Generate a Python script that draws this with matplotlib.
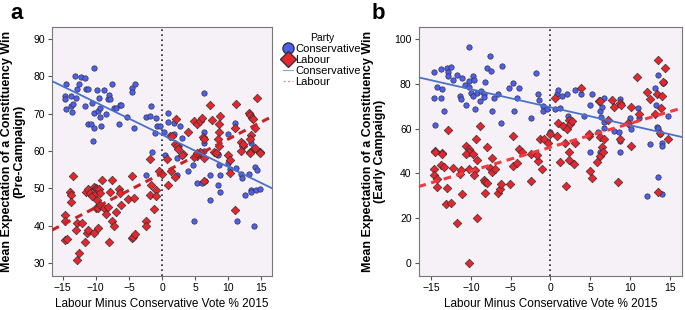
import numpy as np
import matplotlib
matplotlib.use("Agg")
import matplotlib.pyplot as plt
from matplotlib.lines import Line2D

plt.rcParams['font.family'] = ['Liberation Sans', 'DejaVu Sans']

# ---- panel a: pre-campaign ----
a_con_x = [-14.7, -14.7, -14.5, -14.5, -13.8, -13.8, -13.6, -13.4, -13.1, -13.0, -12.8, -12.6,
           -12.3, -11.7, -11.6, -11.4, -11.2, -10.3, -11.1, -10.7, -10.6, -10.3, -10.4, -10.2,
           -9.8, -9.7, -9.5, -9.4, -9.3, -9.2, -8.8, -8.4, -8.2, -8.0, -7.8, -7.6, -7.3, -7.0,
           -6.3, -6.2, -6.5, -5.3, -4.6, -4.5, -4.1, -4.3, -2.4, -1.7, -1.8, -1.1, -0.9, -0.8,
           -0.3, 0.3, 0.9, 0.9, 1.8, 1.8, 2.7, 3.0, 6.4, 6.3, 6.4, 9.9, 11.0, 13.4, 13.8, 2.5,
           -1.5, 6.3, 8.5, 0.5, 2.3, 2.3, -2.4, 3.9, 4.7, 5.3, 6.0, 6.5, 7.3, 7.2, 4.9, 8.5,
           8.6, 8.8, 8.5, 8.8, 10.0, 10.2, 11.1, 11.3, 12.0, 12.1, 12.5, 13.2, 13.5, 13.5,
           14.1, 14.3, 14.2, 14.8, 13.9]
a_con_y = [74.7, 73.8, 78.0, 71.1, 74.7, 72.0, 70.4, 72.6, 80.0, 74.1, 76.5, 77.8,
           79.8, 79.4, 72.0, 76.7, 76.5, 82.1, 67.1, 67.1, 72.9, 66.2, 62.7, 70.1,
           76.2, 70.7, 74.1, 71.6, 69.2, 66.8, 76.2, 69.8, 74.0, 75.0, 73.8, 77.8, 71.5, 71.4,
           72.2, 72.4, 67.1, 69.2, 76.9, 75.8, 77.8, 66.1, 69.0, 72.0, 69.3, 64.9, 68.9, 66.8,
           66.8, 65.1, 70.2, 67.7, 67.4, 64.5, 66.7, 63.5, 75.6, 65.1, 62.2, 64.6, 67.5, 62.0, 60.4, 61.3,
           59.8, 60.0, 59.1, 58.8, 58.0, 53.6, 53.6, 54.7, 56.3, 51.3, 51.5, 52.0, 53.6, 46.9, 41.1, 58.9,
           56.1, 53.6, 50.9, 49.1, 56.7, 55.2, 55.4, 41.1, 53.8, 52.7, 48.2, 53.8, 49.6, 48.9,
           55.8, 54.9, 49.6, 49.8, 40.0]
a_lab_x = [2.1, 1.2, 1.5, 1.9, 2.3, 2.4, 3.2, 3.9, 4.9, 5.3, 5.8, 6.0, 6.2, 6.3, 7.3, 7.6,
           8.6, 8.8, 8.6, 8.5, 8.6, 5.3, 5.8, 11.2, 11.0, 11.9, 12.2, 12.3, 13.2, 13.3, 13.6,
           13.8, 14.1, 14.3, 13.4, 13.3, 14.1, 14.8, 13.3, 7.9,
           -13.4, -14.6, -14.7, -14.6, -14.3, -13.9, -13.8, -13.7, -12.9, -13.0, -12.1, -12.5,
           -12.9, -11.7, -11.3, -11.1, -11.5, -11.1, -10.8, -10.5, -10.3, -10.0, -10.0, -9.8,
           -9.5, -9.8, -9.9, -9.6, -9.3, -9.1, -9.3, -10.3, -9.7, -8.8, -8.4, -8.2, -8.0, -7.9,
           -7.6, -7.5, -7.3, -7.0, -6.5, -6.3, -6.2, -5.2, -4.6, -4.6, -4.4, -4.1, -4.3, -2.4,
           -2.4, -1.8, -1.6, -1.8, -1.2, -0.9, -0.9, -0.4, 0.0, 0.8, 0.9, 1.3, 2.0, 3.0, 4.9,
           5.3, 6.4, 6.4, 8.1, 9.9, 10.2, 10.3, 11.0, 12.0, 13.3, 14.8]
a_lab_y = [68.6, 64.0, 64.1, 61.8, 61.3, 60.6, 59.1, 65.1, 68.0, 67.2, 68.0, 68.7, 63.8, 63.1, 72.2, 68.2,
           67.1, 69.3, 65.1, 63.3, 61.3, 58.7, 59.8, 72.5, 66.2, 62.4, 61.3, 61.8, 70.2, 69.5, 68.9,
           68.5, 66.2, 74.1, 64.2, 63.3, 60.9, 59.6, 59.6, 59.8,
           53.3, 42.9, 41.3, 36.2, 36.3, 49.1, 48.2, 46.4, 40.6, 38.8, 40.6, 32.6,
           30.8, 35.7, 38.1, 38.8, 48.9, 49.7, 48.7, 48.0, 50.3, 50.0, 48.8, 49.7,
           49.7, 46.9, 44.6, 44.6, 48.7, 52.2, 45.5, 38.1, 39.3, 44.6, 43.1, 45.1, 35.7, 48.9,
           52.1, 41.3, 39.9, 43.6, 49.7, 48.8, 45.5, 47.1, 53.3, 36.6, 36.9, 37.8, 47.5, 41.3,
           40.0, 57.8, 50.9, 48.2, 44.5, 49.6, 48.0, 54.7, 53.8, 57.8, 50.9, 54.7, 52.9, 58.9, 58.5,
           59.4, 52.0, 58.0, 59.4, 58.9, 57.6, 54.0, 44.2, 60.0, 59.4, 59.4]

# ---- panel b: early campaign ----
b_con_x = [-14.6, -14.3, -14.7, -14.5, -13.8, -13.7, -13.8, -13.4, -13.0, -12.9, -12.9, -12.5,
           -12.2, -11.7, -11.4, -11.2, -11.1, -10.8, -10.6, -10.3, -10.3, -10.3, -10.0, -9.7,
           -9.6, -9.8, -9.5, -9.2, -8.9, -8.7, -8.4, -8.3, -8.2, -8.0, -7.6, -7.5, -7.4, -7.1,
           -6.6, -6.2, -6.1, -5.2, -4.7, -4.0, -4.2, -4.6, -2.4, -1.8, -1.6, -1.4, -0.9, -0.9,
           -0.4, 0.0, 0.6, 0.8, 1.0, 1.2, 1.4, 2.1, 2.2, 2.5, 3.1, 3.9, 4.2, 5.0, 5.3, 6.0,
           6.2, 6.4, 6.5, 6.7, 6.7, 6.7, 8.0, 8.6, 8.8, 8.8, 10.1, 10.0, 11.0, 11.1, 12.6,
           13.2, 13.3, 13.4, 13.5, 13.6, 13.8, 14.0, 14.2, 14.3, 14.8, 14.0,
           5.0, 6.3, 8.7, 2.8, 12.1, 13.6, 14.1]
b_con_y = [85.2, 78.5, 73.8, 61.5, 86.7, 77.8, 73.8, 67.9, 87.1, 85.2, 83.7, 87.6,
           81.9, 84.1, 74.8, 73.5, 82.7, 79.7, 70.4, 96.7, 78.7, 81.2, 76.0, 83.7,
           81.9, 74.5, 68.6, 76.0, 72.3, 77.0, 75.7, 74.2, 80.7, 87.1, 92.3, 85.6, 67.9, 73.8,
           75.3, 62.4, 88.1, 78.2, 80.4, 78.2, 73.8, 68.1, 64.6, 84.9, 75.7, 73.0, 70.1, 67.9,
           69.0, 58.5, 69.0, 75.6, 77.5, 69.3, 74.5, 75.3, 65.9, 64.1, 77.2, 75.3, 65.6, 70.8, 75.3, 58.7,
           67.9, 65.3, 69.6, 63.0, 60.4, 73.8, 59.0, 58.5, 73.3, 54.5, 59.7, 64.9, 69.3, 64.9, 53.0,
           78.2, 70.4, 60.9, 84.1, 60.4, 57.5, 53.8, 80.4, 80.7, 65.6, 52.3,
           49.7, 49.7, 49.7, 44.5, 29.9, 38.2, 30.8]
b_lab_x = [-12.9, -8.8, -10.6, -10.3, -9.4, -8.0, -14.5, -13.7, -4.7, -4.0, -1.3, -0.8, -0.3,
           -0.1, 0.6, 0.8, 1.0, 1.6, 1.8, 2.1, 2.3, 2.5, 2.7, 3.1, 3.9, 4.8, 4.9, 6.1, 6.2, 6.2,
           6.5, 6.7, 7.8, 8.0, 8.7, 8.8, 8.9, 7.3, 10.1, 9.8, 10.1, 10.9, 11.2, 12.2, 12.6, 13.4,
           13.6, 13.8, 13.9, 14.0, 14.2, 14.4, 14.8, 13.2,
           -14.5, -13.7, -14.7, -14.7, -13.8, -13.4, -14.3, -14.3, -13.0, -13.1, -12.5, -12.2,
           -11.4, -11.3, -11.1, -11.7, -10.3, -10.6, -10.3, -10.3, -9.7, -9.5, -9.6, -9.2, -9.2,
           -8.4, -8.2, -8.0, -8.2, -7.6, -7.4, -7.0, -7.4, -6.6, -6.3, -6.2, -5.1, -4.7, -4.2,
           -3.6, -2.4, -2.4, -1.5, -1.1, -1.7, 1.2, 2.0, 2.4, 3.0, 2.4, 5.0, 5.3, 5.9, 6.3, 6.6,
           8.5, 13.5]
b_lab_y = [59.3, 61.2, 52.3, 50.8, 55.3, 51.6, 50.1, 49.3, 56.7, 50.8, 55.3, 55.3, 53.8,
           57.5, 73.8, 56.7, 62.7, 61.2, 53.8, 59.7, 64.1, 62.2, 63.4, 53.5, 78.2, 56.7, 57.5, 72.3, 72.6, 56.4,
           51.6, 55.3, 73.0, 69.6, 71.5, 55.3, 70.8, 64.1, 69.6, 62.7, 52.3, 83.0, 66.4, 76.3, 73.3, 75.7,
           90.8, 58.2, 69.3, 74.8, 80.7, 87.1, 55.6, 66.4,
           49.7, 48.6, 41.8, 39.3, 43.7, 43.0, 37.3, 34.1, 33.6, 26.3, 26.6, 42.2,
           39.7, 41.5, 30.8, 18.0, 49.4, 48.6, 41.8, 0.0, 48.9, 41.5, 39.3, 46.2, 20.2,
           37.0, 36.3, 35.5, 31.4, 42.2, 40.7, 41.8, 47.0, 31.1, 32.9, 35.2, 35.2, 43.3, 44.5,
           49.7, 36.7, 48.6, 45.6, 41.9, 48.2, 44.9, 34.4, 46.2, 44.0, 49.7, 41.2, 37.8, 44.9, 47.7, 49.7,
           36.3, 31.8]

# fit lines: (intercept at 0, slope)
a_con_fit = (64.35, -0.864)
a_lab_fit = (54.0, 0.916)
b_con_fit = (69.6, -0.804)
b_lab_fit = (51.7, 1.06)

CON_C = '#4d5ff0'
LAB_C = '#e8252e'
BG = '#f6f1f6'


def draw_panel(ax, con_x, con_y, lab_x, lab_y, con_fit, lab_fit, lab_line_c, ylim, yticks, ylabel):
    ax.set_facecolor(BG)
    ax.set_xlim(-16.6, 16.6)
    ax.set_ylim(*ylim)
    ax.axvline(0, color='#222222', linestyle=(0, (1, 2)), lw=1.2, zorder=1)
    ax.scatter(con_x, con_y, s=15, marker='o', color=CON_C, edgecolor='#333344', linewidth=0.5, zorder=3)
    ax.scatter(lab_x, lab_y, s=19, marker='D', color=LAB_C, edgecolor='#333333', linewidth=0.5, zorder=3)
    xs = np.array([-16.6, 16.6])
    ax.plot(xs, con_fit[0] + con_fit[1] * xs, color='#4a72c8', lw=1.3, zorder=4)
    ax.plot(xs, lab_fit[0] + lab_fit[1] * xs, color=lab_line_c, lw=2.2, linestyle=(0, (2.5, 1.8)), zorder=4)
    ax.set_xticks([-15, -10, -5, 0, 5, 10, 15])
    ax.set_yticks(yticks)
    ax.tick_params(labelsize=7.5, length=3, color='#555555', pad=2)
    for s in ax.spines.values():
        s.set_color('#777777')
        s.set_linewidth(0.8)
    ax.set_xlabel('Labour Minus Conservative Vote % 2015', fontsize=8.5, labelpad=4)
    ax.set_ylabel(ylabel, fontsize=9, fontweight='bold', linespacing=1.0, labelpad=6)


fig = plt.figure(figsize=(6.85, 3.1), dpi=100)
ax1 = fig.add_axes([0.076, 0.111, 0.321, 0.802])
ax2 = fig.add_axes([0.611, 0.111, 0.385, 0.802])

draw_panel(ax1, a_con_x, a_con_y, a_lab_x, a_lab_y, a_con_fit, a_lab_fit, '#c42328',
           (26.6, 93.2), [30, 40, 50, 60, 70, 80, 90],
           'Mean Expectation of a Constituency Win\n(Pre-Campaign)')
draw_panel(ax2, b_con_x, b_con_y, b_lab_x, b_lab_y, b_con_fit, b_lab_fit, '#f23a3f',
           (-5.7, 105.5), [0, 20, 40, 60, 80, 100],
           'Mean Expectation of a Constituency Win\n(Early Campaign)')

fig.text(0.015, 0.955, 'a', fontsize=16, fontweight='bold', va='center')
fig.text(0.542, 0.955, 'b', fontsize=16, fontweight='bold', va='center')

handles = [
    Line2D([], [], marker='o', color='none', markerfacecolor=CON_C, markeredgecolor='#333344', markersize=8),
    Line2D([], [], marker='D', color='none', markerfacecolor=LAB_C, markeredgecolor='#333333', markersize=8),
    Line2D([], [], color='#8aa0d8', lw=0.8),
    Line2D([], [], color='#d88', lw=0.8, linestyle=(0, (2, 2))),
]
leg = fig.legend(handles, ['Conservative', 'Labour', 'Conservative', 'Labour'], title='Party',
                 loc='upper left', bbox_to_anchor=(0.402, 0.92), frameon=False, fontsize=8,
                 title_fontsize=7.5, handlelength=0.9, handletextpad=0.2, labelspacing=0.1,
                 borderpad=0.2)

fig.savefig('out.png', dpi=100)
